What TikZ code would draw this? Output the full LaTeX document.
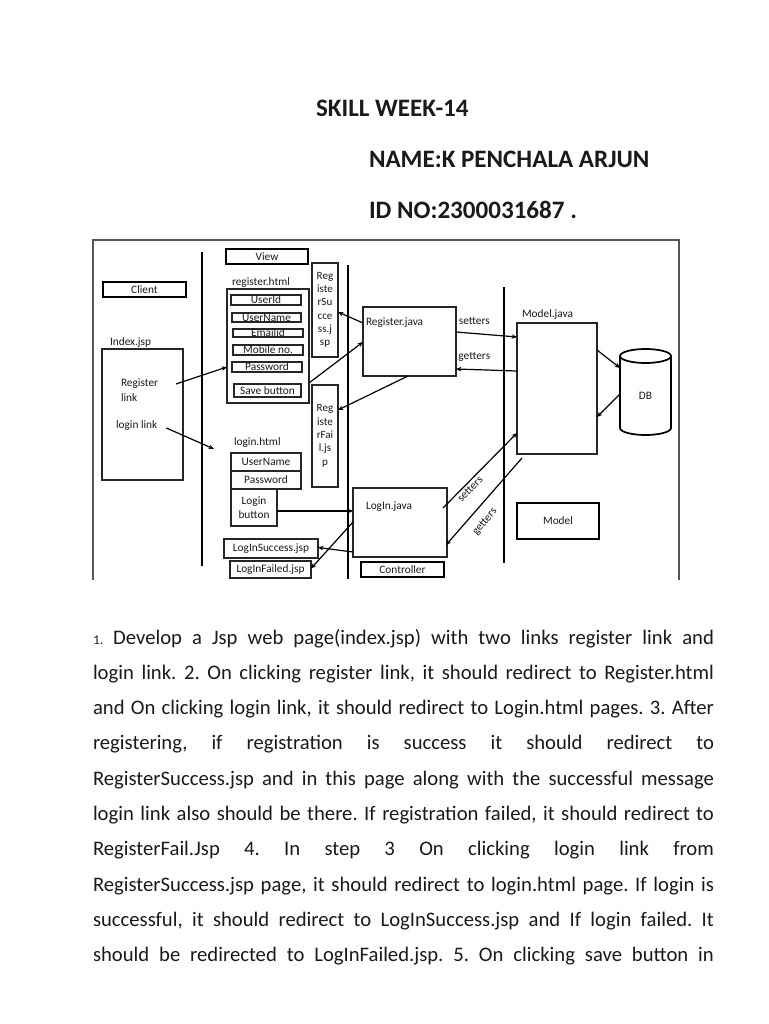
\documentclass[tikz,border=0pt]{standalone}
\usepackage{fontspec}
\setmainfont{Carlito}
\frenchspacing
\usetikzlibrary{arrows.meta,calc}
\definecolor{txt}{HTML}{1A1A1A}
\definecolor{framec}{HTML}{555555}
\newcommand\mybox[7]{\node[#6, minimum width={(#4-#2)*0.75pt}, minimum height={(#5-#3)*0.75pt}] (#1) at ({(#2+#4)/2},{(#3+#5)/2}) {#7};}
\newcommand\bodyfont{\fontsize{15.5}{18}\selectfont}
\newcommand\titlefont{\fontsize{18.8}{22}\selectfont\bfseries}
\tikzset{
  every node/.style={inner sep=0pt, outer sep=0pt, text=txt},
  lab/.style={font=\fontsize{8.5}{10.5}\selectfont},
  thinbox/.style={draw=black!85, line width=0.8pt, lab},
  thickbox/.style={draw=black, line width=1.6pt, lab},
  nobox/.style={lab},
  conn/.style={draw=black, line width=0.9pt, -{Stealth[length=4pt,width=3.4pt]}},
  divider/.style={draw=black, line width=2pt},
  bodyline/.style={anchor=base west, font=\bodyfont},
}
\begin{document}
\begin{tikzpicture}[x=0.75pt, y=-0.75pt]
\useasboundingbox (0,0) rectangle (768,1024);
\fill[white] (0,0) rectangle (768,1024);

% titles
\node[anchor=base west, font=\titlefont] (t1) at (316,116) {SKILL WEEK-14};
\node[anchor=base west, font=\titlefont] (t2) at (369,167) {NAME:K PENCHALA ARJUN};
\node[anchor=base west, font=\titlefont] (t3) at (369,218) {ID NO:2300031687 .};

% frame
\draw[framec, line width=1.4pt] (93,580) -- (93,240) -- (679,240) -- (679,580);

% dividers
\draw[divider] (202,252) -- (202,566);
\draw[divider] (348,265) -- (348,579);
\draw[divider] (504,287) -- (504,563);

% client column
\mybox{client}{103}{282}{186}{297}{thickbox}{Client}
\node[lab, anchor=west] (indexlbl) at (110,343) {Index.jsp};
\mybox{indexbox}{102}{349}{183}{480}{thinbox}{}
\node[lab, anchor=west, align=left] (reglink) at (121,390) {Register\\[0.5pt]link};
\node[lab, anchor=west] (loginlink) at (116,426) {login link};

% view column
\mybox{view}{226}{249}{308}{264}{thickbox}{View}
\node[lab, anchor=west] (reglbl) at (232,283) {register.html};
\mybox{regform}{227}{289}{309}{403}{thinbox}{}
\mybox{fuid}{231}{295}{301}{305}{thinbox}{UserId}
\mybox{funame}{232}{313}{301}{322}{thinbox}{UserName}
\mybox{fmail}{233}{329}{303}{337}{thinbox}{Emailid}
\mybox{fmob}{233}{345}{303}{355}{thinbox}{Mobile no.}
\mybox{fpass}{232}{362}{302}{372}{thinbox}{Password}
\mybox{save}{234}{384}{301}{397}{thinbox}{Save button}

\node[lab, anchor=west] (loginlbl) at (234,443) {login.html};
\mybox{luname}{231}{453}{301}{471}{thinbox}{UserName}
\mybox{lpass}{231}{471}{301}{489}{thinbox}{Password}
\mybox{loginbtn}{231}{489}{277}{526}{thinbox,align=center}{Login\\button}
\mybox{logsucc}{224}{539}{318}{558}{thinbox}{LogInSuccess.jsp}
\mybox{logfail}{230}{561}{311}{578}{thinbox}{LogInFailed.jsp}

\mybox{regsucc}{312}{263}{338}{357}{thinbox,align=center,font=\fontsize{8.3}{10}\selectfont}{Reg\\iste\\rSu\\cce\\ss.j\\sp}
\mybox{regfail}{312}{385}{338}{487}{thinbox,align=center,font=\fontsize{8.3}{10}\selectfont}{Reg\\iste\\rFai\\l.js\\p}

% controller column
\mybox{regjava}{363}{307}{456}{376}{thinbox}{}
\node[lab, anchor=west] (regjavalbl) at (366,323) {Register.java};
\mybox{loginjava}{353}{488}{447}{557}{thinbox}{}
\node[lab, anchor=west] (loginjavalbl) at (366,507) {LogIn.java};
\mybox{controller}{361}{562}{444}{577}{thickbox}{Controller}

% model column
\node[lab, anchor=west] (modellbl) at (522,315) {Model.java};
\mybox{modeljava}{517}{323}{597}{454}{thinbox}{}
\mybox{model}{517}{503}{599}{539}{thickbox}{Model}

% DB cylinder
\mybox{dbbody}{620}{356}{671}{430}{nobox}{}
\node[lab] (db) at (645.5,396) {DB};
\draw[black, line width=1.3pt] (620,356) -- (620,428) arc[start angle=180, end angle=0, x radius=25.5, y radius=7] -- (671,356);
\draw[black, line width=1.3pt] (645.5,356) ellipse [x radius=25.5, y radius=7];

% connectors
\draw[conn] ($(indexbox.north east)+(-7,35)$) -- ($(regform.north west)+(0,78)$);
\draw[conn] ($(loginlink.east)+(9,2)$) -- ($(loginlbl.west)+(-20,6)$);
\draw[conn] ($(regjava.north west)+(0,16)$) -- ($(regsucc.north east)+(0,49)$);
\draw[conn] ($(regform.south east)+(0,-20)$) -- ($(regjava.north west)+(0,35)$);
\draw[conn] ($(regjava.south west)+(45,0)$) -- ($(regfail.north east)+(0,25)$);
\draw[conn] ($(regjava.north east)+(0,25)$) -- node[lab, above=7pt, pos=0.3] (setters1) {setters} ($(modeljava.north west)+(0,14)$);
\draw[conn] ($(modeljava.north west)+(0,48)$) -- node[lab, above=6pt, pos=0.7] (getters1) {getters} ($(regjava.south east)+(0,-7)$);
\draw[conn] ($(modeljava.north east)+(0,27)$) -- ($(dbbody.north west)+(0,12)$);
\draw[conn] ($(dbbody.north west)+(0,38)$) -- ($(modeljava.north east)+(0,94)$);
\draw[conn] ($(loginbtn.north east)+(0,22)$) -- ($(loginjava.north west)+(0,23)$);
\draw[conn] ($(loginjava.south west)+(0,-5)$) -- ($(logsucc.east)+(0,-1)$);
\draw[conn] ($(loginjava.north west)+(0,34)$) -- ($(logfail.east)+(0,-1)$);
\draw[conn] ($(loginjava.north east)+(-4,20)$) -- ($(modeljava.south west)+(0,-21)$);
\draw[conn] ($(modeljava.south west)+(5,4)$) -- ($(loginjava.south east)+(-1,-12)$);
\node[lab, rotate=45] (setters2) at (470,489) {setters};
\node[lab, rotate=50] (getters2) at (485,522) {getters};

% body text
\node[bodyline] (b1) at (93,644) {\makebox[465.75pt][s]{{\fontsize{10}{12}\selectfont 1.} Develop a Jsp web page(index.jsp) with two links register link and}};
\node[bodyline] (b2) at (93,679.3) {\makebox[465.75pt][s]{login link. 2. On clicking register link, it should redirect to Register.html}};
\node[bodyline] (b3) at (93,714.6) {\makebox[465.75pt][s]{and On clicking login link, it should redirect to Login.html pages. 3. After}};
\node[bodyline] (b4) at (93,749.9) {\makebox[465.75pt][s]{registering, if registration is success it should redirect to}};
\node[bodyline] (b5) at (93,785.2) {\makebox[465.75pt][s]{RegisterSuccess.jsp and in this page along with the successful message}};
\node[bodyline] (b6) at (93,820.5) {\makebox[465.75pt][s]{login link also should be there. If registration failed, it should redirect to}};
\node[bodyline] (b7) at (93,855.8) {\makebox[465.75pt][s]{RegisterFail.Jsp 4. In step 3 On clicking login link from}};
\node[bodyline] (b8) at (93,891.1) {\makebox[465.75pt][s]{RegisterSuccess.jsp page, it should redirect to login.html page. If login is}};
\node[bodyline] (b9) at (93,926.4) {\makebox[465.75pt][s]{successful, it should redirect to LogInSuccess.jsp and If login failed. It}};
\node[bodyline] (b10) at (93,961.7) {\makebox[465.75pt][s]{should be redirected to LogInFailed.jsp. 5. On clicking save button in}};
\end{tikzpicture}
\end{document}
